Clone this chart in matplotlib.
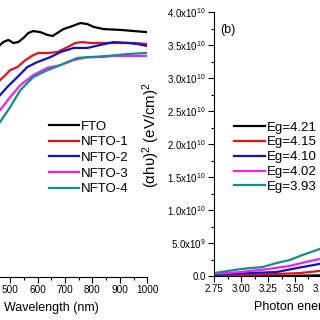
import matplotlib
matplotlib.use("Agg")
import matplotlib.pyplot as plt
from matplotlib.ticker import MultipleLocator, FuncFormatter

plt.rcParams['font.family'] = ['Liberation Sans', 'DejaVu Sans']
plt.rcParams['mathtext.fontset'] = 'custom'
plt.rcParams['mathtext.rm'] = 'Liberation Sans'
plt.rcParams['mathtext.it'] = 'Liberation Sans'

# (a) transmittance vs wavelength
labels_a = ["FTO", "NFTO-1", "NFTO-2", "NFTO-3", "NFTO-4"]
colors = ["black", "#e8101a", "#1010c8", "#f020f0", "#10908a"]

wl_fto = [463, 474, 493, 511, 529, 548, 566, 584, 610, 636, 654, 672, 694, 727, 756, 782, 804, 841, 903, 951, 1000]
t_fto = [83.8, 84.8, 85.6, 84.5, 84.8, 86.3, 88.1, 88.8, 88.4, 87.4, 87.0, 88.1, 89.5, 90.6, 91.7, 91.3, 90.3, 89.5, 89.2, 88.8, 88.4]
wl_n1 = [463, 482, 500, 526, 555, 584, 603, 636, 672, 709, 738, 764, 793, 830, 877, 951, 1000]
t_n1 = [71.1, 72.9, 74.7, 75.8, 78.3, 80.1, 80.9, 80.9, 81.2, 83.0, 84.5, 84.8, 84.5, 84.5, 84.5, 84.5, 84.1]
wl_n2 = [463, 489, 526, 562, 599, 647, 683, 731, 782, 830, 877, 929, 965, 1000]
t_n2 = [65.7, 68.6, 72.2, 75.8, 77.6, 79.4, 81.2, 82.7, 82.7, 83.8, 84.8, 84.5, 84.1, 83.4]
wl_n3 = [463, 500, 537, 584, 636, 683, 731, 782, 830, 877, 951, 1000]
t_n3 = [60.3, 65.0, 69.3, 72.9, 75.5, 76.5, 78.3, 79.4, 79.4, 79.8, 79.8, 79.8]
wl_n4 = [463, 500, 537, 584, 636, 683, 745, 793, 855, 929, 1000]
t_n4 = [56.0, 61.4, 67.5, 72.2, 74.7, 76.5, 79.1, 79.4, 79.8, 80.5, 80.9]

# (b) Tauc plot
labels_b = ["Eg=4.21", "Eg=4.15", "Eg=4.10", "Eg=4.02", "Eg=3.93"]
e_0 = [2.75, 3.00, 3.25, 3.50, 3.75]
v_0 = [0.0, 0.0, 0.0, 0.004, 0.01]
e_1 = [2.75, 3.00, 3.33, 3.55, 3.75]
v_1 = [0.0, 0.015, 0.03, 0.045, 0.08]
e_2 = [2.75, 3.08, 3.33, 3.52, 3.75]
v_2 = [0.015, 0.045, 0.06, 0.121, 0.19]
e_3 = [2.75, 3.00, 3.25, 3.45, 3.60, 3.75]
v_3 = [0.03, 0.06, 0.106, 0.152, 0.212, 0.265]
e_4 = [2.75, 3.00, 3.20, 3.33, 3.45, 3.57, 3.75]
v_4 = [0.045, 0.106, 0.136, 0.197, 0.242, 0.318, 0.42]

fig = plt.figure(figsize=(3.2, 3.2), dpi=100)

# left panel (cropped on the left)
ax1 = fig.add_axes([-0.139, 0.134, 0.599, 0.866])
for wl, t, c, lab in zip([wl_fto, wl_n1, wl_n2, wl_n3, wl_n4],
                         [t_fto, t_n1, t_n2, t_n3, t_n4], colors, labels_a):
    ax1.plot(wl, t, color=c, lw=1.6, label=lab)
ax1.set_xlim(300, 1000)
ax1.set_ylim(0, 100)
for s in ["left", "top", "right"]:
    ax1.spines[s].set_visible(False)
ax1.set_yticks([])
ax1.xaxis.set_major_locator(MultipleLocator(100))
ax1.xaxis.set_minor_locator(MultipleLocator(50))
ax1.tick_params(axis="x", which="major", direction="out", length=4, width=0.8, labelsize=7.2, pad=2)
ax1.tick_params(axis="x", which="minor", direction="out", length=2.5, width=0.8)
ax1.set_xlabel("Wavelength (nm)", fontsize=9, labelpad=5)
ax1.legend(loc="upper left", bbox_to_anchor=(0.154, 0.624), bbox_transform=fig.transFigure,
           frameon=False, fontsize=9.5, handlelength=2.25, handletextpad=0.15,
           labelspacing=0.26, borderaxespad=0, borderpad=0)

# right panel (cropped on the right)
ax2 = fig.add_axes([0.669, 0.1375, 0.59, 0.825])
for e, v, c, lab in zip([e_0, e_1, e_2, e_3, e_4], [v_0, v_1, v_2, v_3, v_4], colors, labels_b):
    ax2.plot(e, [x * 1e10 for x in v], color=c, lw=1.6, label=lab)
ax2.set_xlim(2.75, 4.5)
ax2.set_ylim(0, 4.0e10)
for s in ["top", "right"]:
    ax2.spines[s].set_visible(False)
ax2.xaxis.set_major_locator(MultipleLocator(0.25))
ax2.xaxis.set_minor_locator(MultipleLocator(0.125))
ax2.yaxis.set_major_locator(MultipleLocator(0.5e10))
ax2.yaxis.set_minor_locator(MultipleLocator(0.25e10))


def fmt(y, pos):
    if abs(y) < 1:
        return "0.0"
    if y < 1e10:
        return r"%.1fx10$^{9}$" % (y / 1e9)
    return r"%.1fx10$^{10}$" % (y / 1e10)


ax2.yaxis.set_major_formatter(FuncFormatter(fmt))
ax2.xaxis.set_major_formatter(FuncFormatter(lambda x, p: "%.2f" % x))
ax2.tick_params(which="major", direction="out", length=4, width=0.8, labelsize=7, pad=2)
ax2.tick_params(which="minor", direction="out", length=2.5, width=0.8)
ax2.set_xlabel("Photon energy (eV)", fontsize=9, labelpad=5)
ax2.set_ylabel("(αhυ)$^2$ (eV/cm)$^2$", fontsize=10.8)
ax2.yaxis.set_label_coords(-0.275, 0.535)
ax2.text(0.035, 0.955, "(b)", transform=ax2.transAxes, fontsize=9, va="top")
ax2.legend(loc="upper left", bbox_to_anchor=(0.731, 0.621), bbox_transform=fig.transFigure,
           frameon=False, fontsize=9.5, handlelength=2.35, handletextpad=0.15,
           labelspacing=0.2, borderaxespad=0, borderpad=0)

fig.savefig("out.png", dpi=100)
